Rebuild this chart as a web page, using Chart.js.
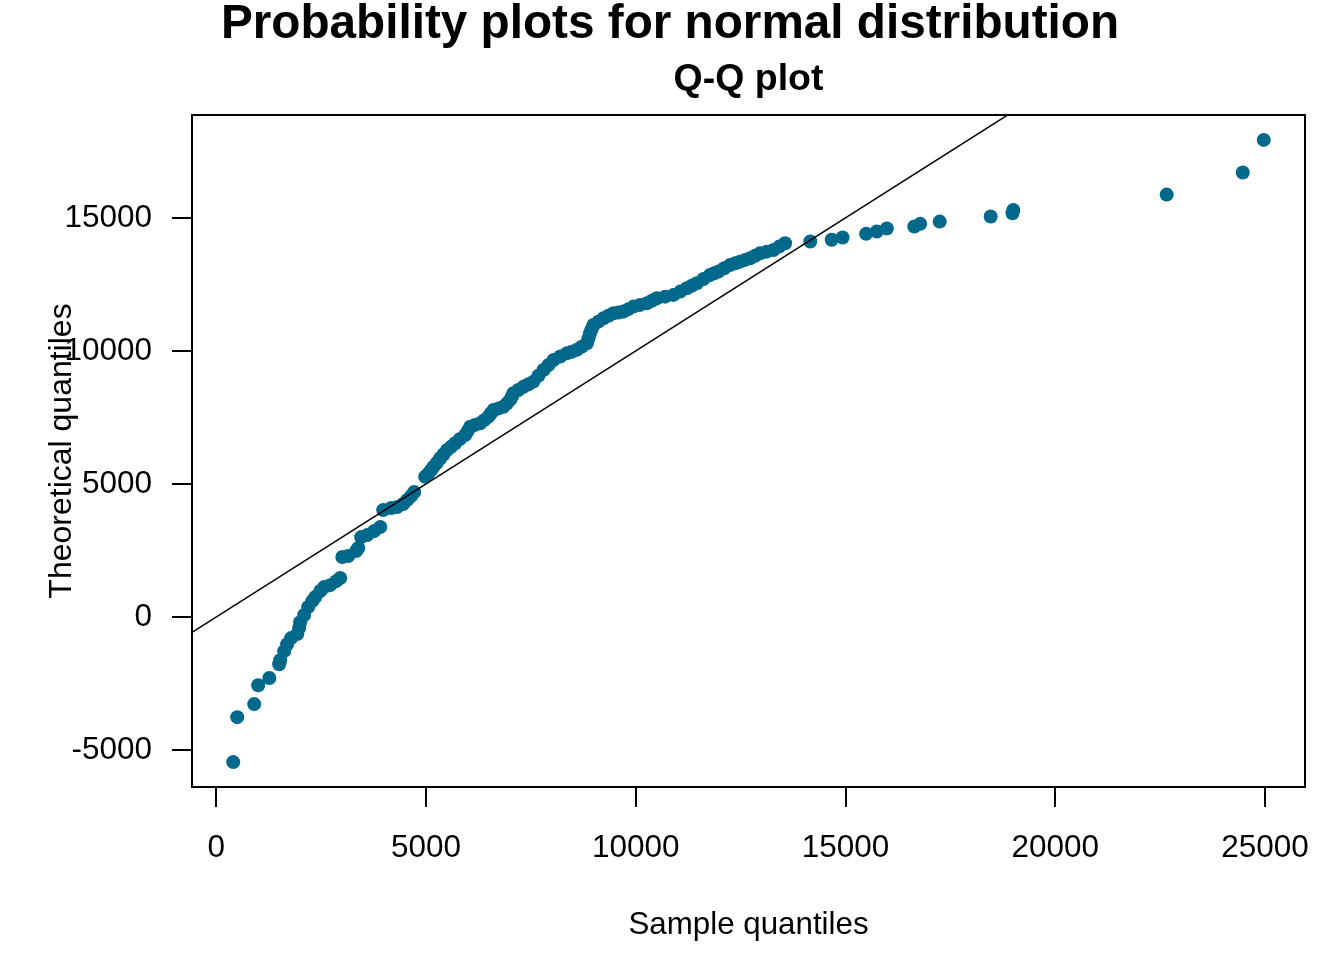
<!DOCTYPE html>
<html>
<head>
<meta charset="utf-8">
<title>Q-Q plot</title>
<script src="https://cdn.jsdelivr.net/npm/chart.js@4.4.1/dist/chart.umd.min.js"></script>
<style>
  html, body { margin: 0; padding: 0; background: #fff; }
  #wrap { width: 1344px; height: 960px; }
</style>
</head>
<body>
<div id="wrap"><canvas id="qqChart" width="1344" height="960"></canvas></div>
<script>
// sample quantiles (x), sorted
var sampleQ = [
  405, 500, 905, 1000, 1265, 1500, 1525, 1620, 1690, 1785,
  1930, 1975, 2000, 2095, 2190, 2290, 2360, 2480, 2575, 2715,
  2860, 2955, 3005, 3145, 3335, 3385, 3455, 3600, 3765, 3910,
  3980, 4170, 4315, 4455, 4550, 4645, 4720,
  4980, 5060, 5120, 5180, 5260, 5340, 5420, 5500, 5600, 5695,
  5810, 5935, 6000, 6055, 6170, 6290, 6390, 6490, 6550, 6610,
  6730, 6845, 6930, 7005, 7050, 7085, 7200, 7325, 7440, 7560,
  7680, 7800, 7920, 8040, 8200, 8355, 8475, 8595, 8715, 8835,
  8875, 8910, 8950, 8990, 9110, 9230, 9350, 9470, 9590, 9705,
  9825, 9945, 10100, 10265, 10385, 10500, 10700, 10900, 11060, 11215,
  11335, 11455, 11615, 11770, 11870, 11970, 12110, 12250, 12370, 12485,
  12605, 12725, 12845, 12965, 13120, 13280, 13420, 13560,
  14160, 14670, 14930, 15490, 15745, 15985, 16640, 16780, 17245, 18460,
  18980, 19000, 22655, 24470, 24970
];

// theoretical quantiles (y), same order
var theoQ = [
  -5450, -3760, -3270, -2560, -2290, -1770, -1620, -1280, -1020, -790,
  -640, -410, -190, 75, 380, 600, 750, 980, 1130, 1200,
  1350, 1470, 2255, 2295, 2480, 2595, 3005, 3080, 3235, 3385,
  4020, 4100, 4135, 4250, 4400, 4550, 4700,
  5275, 5400, 5520, 5650, 5800, 5965, 6120, 6280, 6400, 6530,
  6690, 6840, 7000, 7150, 7220, 7280, 7400, 7530, 7660, 7780,
  7840, 7905, 8030, 8160, 8290, 8410, 8530, 8655, 8750, 8845,
  9070, 9285, 9470, 9660, 9790, 9910, 9970, 10040, 10160, 10290,
  10480, 10665, 10820, 10975, 11100, 11230, 11320, 11415, 11445, 11480,
  11570, 11665, 11730, 11790, 11885, 11980, 12040, 12105, 12230, 12355,
  12450, 12545, 12700, 12855, 12920, 12980, 13105, 13230, 13295, 13355,
  13420, 13480, 13575, 13670, 13730, 13795, 13920, 14045,
  14110, 14175, 14260, 14400, 14485, 14600, 14675, 14775, 14860, 15050,
  15175, 15300, 15875, 16705, 17930
];

// reference line y = x (ends run past the axes and get clipped)
var refLineX = [-1000, 30000];
var refLineY = [-1000, 30000];

var xTicks = [0, 5000, 10000, 15000, 20000, 25000];
var yTicks = [-5000, 0, 5000, 10000, 15000];

var xLimits = [-578, 25953];
var yLimits = [-6385, 18865];

var mainTitle = "Probability plots for normal distribution";
var subTitle = "Q-Q plot";
var xLabel = "Sample quantiles";
var yLabel = "Theoretical quantiles";

var FONT = "'Liberation Sans', Arial, Helvetica, sans-serif";
var pointColor = "#00688B";

var points = sampleQ.map(function(v, i){ return {x: v, y: theoQ[i]} });
var lineData = refLineX.map(function(v, i){ return {x: v, y: refLineY[i]} });

// box round the plot and the two titles, R style
var framePlugin = {
  id: 'frame',
  afterDraw: function(chart){
    var ctx = chart.ctx
    var a = chart.chartArea
    ctx.save()
    ctx.strokeStyle = '#000'
    ctx.lineWidth = 2
    ctx.strokeRect(a.left, a.top, a.right - a.left, a.bottom - a.top)

    ctx.fillStyle = '#000'
    ctx.textAlign = 'center'
    ctx.textBaseline = 'alphabetic'
    ctx.font = "bold 47.7px " + FONT
    ctx.fillText(mainTitle, chart.width / 2 - 2, 38)
    ctx.font = "bold 37.5px " + FONT
    ctx.fillText(subTitle, (a.left + a.right) / 2, 90)
    ctx.restore()
  }
}

Chart.defaults.font.family = FONT;
Chart.defaults.color = '#000';

var tickGrid = {
  display: true,
  drawOnChartArea: false,
  drawTicks: true,
  tickLength: 20,
  color: '#000',
  lineWidth: 2
};

var chart = new Chart(document.getElementById('qqChart'), {
  type: 'scatter',
  data: {
    datasets: [
      {
        type: 'line',
        label: 'qq line',
        data: lineData,
        borderColor: '#000',
        borderWidth: 1.5,
        pointRadius: 0,
        fill: false
      },
      {
        label: 'quantiles',
        data: points,
        backgroundColor: pointColor,
        borderWidth: 0,
        pointRadius: 7,
        pointHoverRadius: 7
      }
    ]
  },
  options: {
    responsive: false,
    devicePixelRatio: 1,
    animation: false,
    layout: { padding: { top: 115, right: 39, bottom: 0, left: 0 } },
    plugins: {
      legend: { display: false },
      tooltip: { enabled: false },
      title: { display: false }
    },
    scales: {
      x: {
        type: 'linear',
        min: xLimits[0],
        max: xLimits[1],
        grid: tickGrid,
        border: { display: false },
        afterBuildTicks: function(scale){
          scale.ticks = xTicks.map(function(v){ return {value: v} })
        },
        afterFit: function(scale){ scale.height = 173 },
        ticks: {
          font: { size: 31.5 },
          padding: 22,
          maxRotation: 0,
          callback: function(v){ return String(v) }
        },
        title: {
          display: true,
          text: xLabel,
          font: { size: 31.3 },
          padding: { top: 0, bottom: 16 }
        }
      },
      y: {
        type: 'linear',
        min: yLimits[0],
        max: yLimits[1],
        grid: tickGrid,
        border: { display: false },
        afterBuildTicks: function(scale){
          scale.ticks = yTicks.map(function(v){ return {value: v} })
        },
        afterFit: function(scale){ scale.width = 192 },
        ticks: {
          font: { size: 31.5 },
          padding: 20,
          callback: function(v){ return String(v) }
        },
        title: {
          display: true,
          text: yLabel,
          font: { size: 32 },
          padding: { top: 43, bottom: 0 }
        }
      }
    }
  },
  plugins: [framePlugin]
});
</script>
</body>
</html>
